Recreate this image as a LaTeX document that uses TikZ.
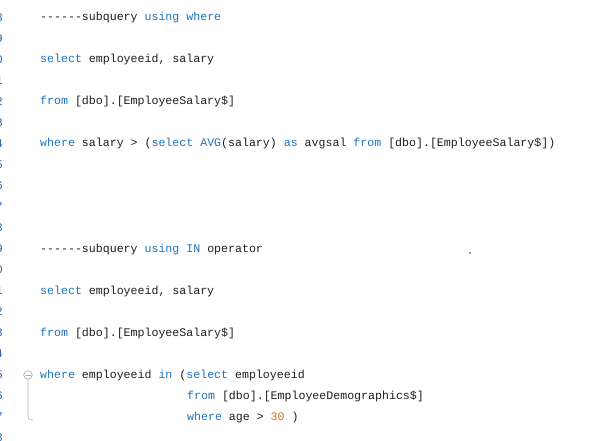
\documentclass[tikz,border=0pt]{standalone}
\usepackage{fontspec}
\newfontfamily\code{Liberation Mono}
\definecolor{kw}{RGB}{30,115,190}
\definecolor{num}{RGB}{200,120,40}
\definecolor{txt}{RGB}{30,30,30}
\definecolor{gut}{RGB}{40,100,170}
\newcommand{\kwd}[1]{\textcolor{kw}{#1}}
\tikzset{ln/.style={anchor=west,inner sep=0pt,font=\code\fontsize{11.6}{14}\selectfont,text=txt},
 numc/.style={anchor=east,inner sep=0pt,font=\code\fontsize{11.6}{14}\selectfont,text=gut}}
\begin{document}
\begin{tikzpicture}[x=1pt,y=-1pt]
\useasboundingbox (0,0) rectangle (605,441);
\fill[white] (0,0) rectangle (605,441);
\begin{scope}
\clip (0,0) rectangle (605,441);
\foreach \i [count=\k from 0] in {8,9,0,1,2,3,4,5,6,7,8,9,0,1,2,3,4,5,6,7,8}{
 \node[numc] (n\k) at (3,18+21*\k) {\i};}
\end{scope}
\node[ln] (c1) at (40,18) {-{}-{}-{}-{}-{}-subquery \kwd{using} \kwd{where}};
\node[ln] (c2) at (40,60) {\kwd{select} employeeid, salary};
\node[ln] (c3) at (40,102) {\kwd{from} [dbo].[EmployeeSalary\$]};
\node[ln] (c4) at (40,144) {\kwd{where} salary > (\kwd{select} \kwd{AVG}(salary) \kwd{as} avgsal \kwd{from} [dbo].[EmployeeSalary\$])};
\node[ln] (c5) at (40,249) {-{}-{}-{}-{}-{}-subquery \kwd{using} \kwd{IN} operator};
\node[ln] (c6) at (40,291) {\kwd{select} employeeid, salary};
\node[ln] (c7) at (40,333) {\kwd{from} [dbo].[EmployeeSalary\$]};
\node[ln] (c8) at (40,375) {\kwd{where} employeeid \kwd{in} (\kwd{select} employeeid};
\node[ln] (c9) at (187,396) {\kwd{from} [dbo].[EmployeeDemographics\$]};
\node[ln] (c10) at (187,417) {\kwd{where} age > \textcolor{num}{30} )};
\fill[red!70!black] (470,253) circle (0.8);
\node[circle,draw=gray!70,line width=0.6pt,minimum size=8.5pt,inner sep=0pt] (fold) at (28,375) {};
\draw[gray!70,line width=0.6pt] (25.5,375) -- (30.5,375);
\draw[gray!60,line width=0.6pt] (fold.south) -- (28,416) .. controls (28,419) and (29,420) .. (33,420);
\end{tikzpicture}
\end{document}
